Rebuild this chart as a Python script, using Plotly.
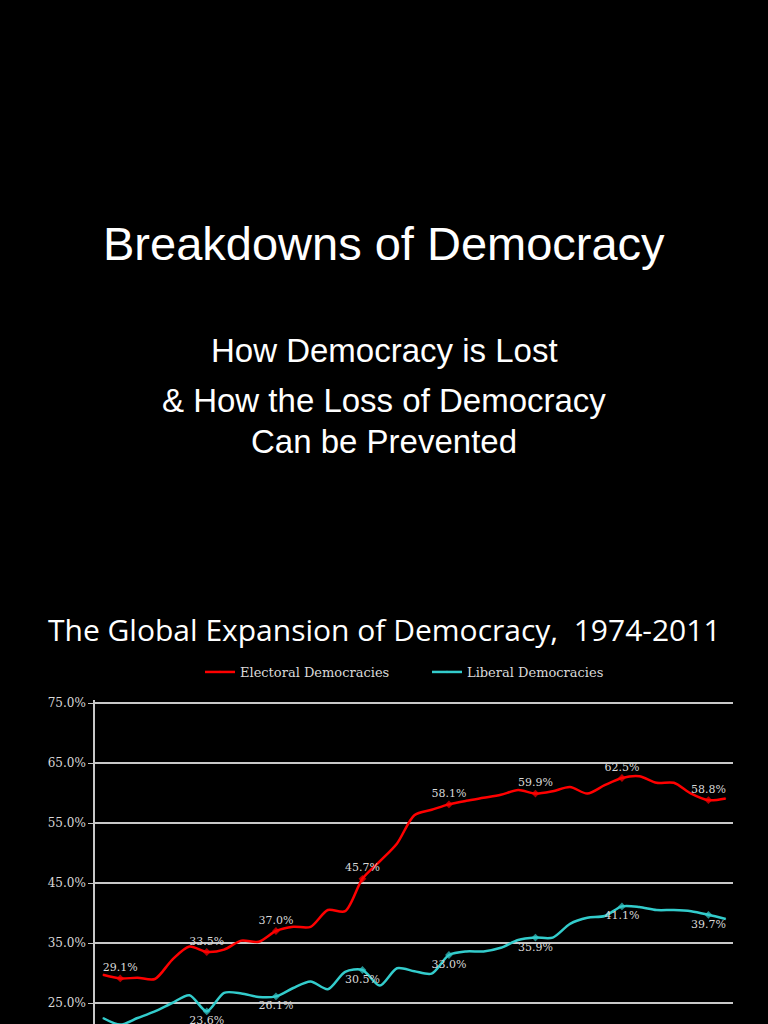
import plotly.graph_objects as go

years = [1974,1975,1976,1977,1978,1979,1980,1981,1983,1984,1985,1986,1987,1988,1989,1990,1991,1992,1993,
         1994,1995,1996,1997,1998,1999,2000,2001,2002,2003,2004,2005,2006,2007,2008,2009,2010,2011]
electoral = [29.7,29.1,29.2,29.0,32.2,34.4,33.5,33.9,35.4,35.2,37.0,37.7,37.7,40.5,40.3,45.7,48.6,51.6,56.3,
             57.2,58.1,58.7,59.2,59.7,60.5,59.9,60.3,61.0,59.9,61.3,62.5,62.8,61.7,61.7,59.9,58.8,59.1]
liberal = [22.5,21.4,22.5,23.6,25.0,26.3,23.6,26.7,26.6,26.0,26.1,27.5,28.6,27.3,30.2,30.5,27.9,30.8,30.3,
           29.9,33.0,33.6,33.6,34.2,35.5,35.9,35.9,38.2,39.2,39.5,41.1,41.0,40.5,40.5,40.3,39.7,39.0]
labelled = [1975,1980,1985,1990,1995,2000,2005,2010]
yticks = [25,35,45,55,65,75]

W, H = 768, 1024
L, R, T, B = 95, 35, 700, 0
plot_h = H - T - B
plot_w = W - L - R
def py(pix):  # pixel-from-top -> paper y
    return (H - B - pix) / plot_h
cx = (384 - L) / plot_w

xs = list(range(len(years)))
def marks(vals):
    size = [6 if y in labelled else 1 for y in years]
    text = [f"{v:.1f}%" if y in labelled else "" for y, v in zip(years, vals)]
    return size, text

rs, rt = marks(electoral)
ls, lt = marks(liberal)
tfont = dict(family="DejaVu Serif", size=11, color="#d9d9d9")

fig = go.Figure()
fig.add_trace(go.Scatter(x=xs, y=electoral, name="Electoral Democracies", mode="lines+markers+text",
                         line=dict(color="#ff0000", width=2.5, shape="spline", smoothing=0.8),
                         marker=dict(size=rs, color="#ff0000", symbol="diamond", line=dict(width=0)),
                         text=rt, textposition="top center", textfont=tfont, cliponaxis=False))
fig.add_trace(go.Scatter(x=xs, y=liberal, name="Liberal Democracies", mode="lines+markers+text",
                         line=dict(color="#33cccc", width=2.5, shape="spline", smoothing=0.8),
                         marker=dict(size=ls, color="#33cccc", symbol="diamond", line=dict(width=0)),
                         text=lt, textposition="bottom center", textfont=tfont))

def ann(text, pix, size, fam):
    return dict(text=text, x=cx, y=py(pix), xref="paper", yref="paper", showarrow=False,
                xanchor="center", yanchor="middle", font=dict(family=fam, size=size, color="white"))

fig.update_layout(
    width=W, height=H, paper_bgcolor="black", plot_bgcolor="black",
    margin=dict(l=L, r=R, t=T, b=B, autoexpand=False),
    showlegend=True,
    legend=dict(orientation="h", x=(200 - L) / plot_w, xanchor="left", y=py(672), yanchor="middle",
                font=dict(family="DejaVu Serif", size=13, color="#d9d9d9"),
                bgcolor="rgba(0,0,0,0)", itemwidth=30, entrywidth=182),
    xaxis=dict(range=[-0.46, 36.42], showticklabels=False, showgrid=False, zeroline=False,
               showline=False, ticks=""),
    yaxis=dict(range=[21.5, 75.5], tickvals=yticks, ticktext=[f"{v:.1f}%" for v in yticks],
               showgrid=True, gridcolor="#c8c8c8", gridwidth=1.5, zeroline=False,
               showline=True, linecolor="#c8c8c8", linewidth=1.5, ticks="outside", ticklen=5,
               tickcolor="#c8c8c8", tickfont=dict(family="DejaVu Serif", size=12, color="#d9d9d9")),
    annotations=[
        ann("Breakdowns of Democracy", 243, 47, "Liberation Sans"),
        ann("How Democracy is Lost", 351, 33, "Liberation Sans"),
        ann("& How the Loss of Democracy", 401, 33, "Liberation Sans"),
        ann("Can be Prevented", 441, 33, "Liberation Sans"),
        ann("The Global Expansion of Democracy,  1974-2011", 629, 30, "Open Sans"),
    ],
)
fig.write_html("out.html", config={"displayModeBar": False},
               post_script="document.body.style.margin='0';document.body.style.background='black';document.body.style.overflow='hidden';")
